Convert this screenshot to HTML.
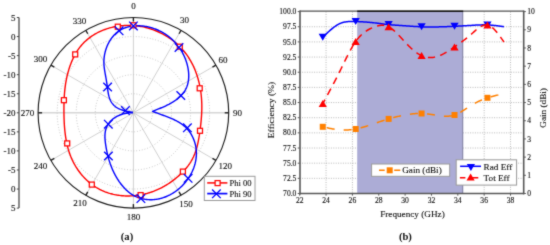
<!DOCTYPE html>
<html><head><meta charset="utf-8"><title>Figure</title>
<style>
html,body{margin:0;padding:0;background:#fff;width:550px;height:245px;overflow:hidden}
svg{display:block}
text{font-family:'Liberation Serif','Times New Roman',serif;fill:#111;stroke:#111;stroke-width:0.12px}
.t9{font-size:9px}
.t85{font-size:8.6px}
.t75{font-size:7.6px}
.t92{font-size:9.2px}
.t96{font-size:9.6px}
.tb{font-size:10.6px;font-weight:bold;stroke-width:0}
</style></head>
<body>
<svg width="550" height="245" viewBox="0 0 550 245">
<defs><filter id="soft" x="0" y="0" width="1" height="1" color-interpolation-filters="sRGB"><feConvolveMatrix order="3" kernelMatrix="0.025 0.085 0.025 0.085 0.56 0.085 0.025 0.085 0.025" edgeMode="duplicate"/></filter></defs>
<g filter="url(#soft)">
<rect width="550" height="245" fill="#fff"/>
<line x1="19.0" y1="17.5" x2="19.0" y2="208.1" stroke="#4a4a4a" stroke-width="1.3"/>
<line x1="16.8" y1="17.50" x2="19.0" y2="17.50" stroke="#4a4a4a" stroke-width="1"/>
<text x="15.6" y="20.50" text-anchor="end" class="t9">5</text>
<line x1="16.8" y1="36.56" x2="19.0" y2="36.56" stroke="#4a4a4a" stroke-width="1"/>
<text x="15.6" y="39.56" text-anchor="end" class="t9">0</text>
<line x1="16.8" y1="55.62" x2="19.0" y2="55.62" stroke="#4a4a4a" stroke-width="1"/>
<text x="15.6" y="58.62" text-anchor="end" class="t9">-5</text>
<line x1="16.8" y1="74.68" x2="19.0" y2="74.68" stroke="#4a4a4a" stroke-width="1"/>
<text x="15.6" y="77.68" text-anchor="end" class="t9">-10</text>
<line x1="16.8" y1="93.74" x2="19.0" y2="93.74" stroke="#4a4a4a" stroke-width="1"/>
<text x="15.6" y="96.74" text-anchor="end" class="t9">-15</text>
<line x1="16.8" y1="112.80" x2="19.0" y2="112.80" stroke="#4a4a4a" stroke-width="1"/>
<text x="15.6" y="115.80" text-anchor="end" class="t9">-20</text>
<line x1="16.8" y1="131.86" x2="19.0" y2="131.86" stroke="#4a4a4a" stroke-width="1"/>
<text x="15.6" y="134.86" text-anchor="end" class="t9">-15</text>
<line x1="16.8" y1="150.92" x2="19.0" y2="150.92" stroke="#4a4a4a" stroke-width="1"/>
<text x="15.6" y="153.92" text-anchor="end" class="t9">-10</text>
<line x1="16.8" y1="169.98" x2="19.0" y2="169.98" stroke="#4a4a4a" stroke-width="1"/>
<text x="15.6" y="172.98" text-anchor="end" class="t9">-5</text>
<line x1="16.8" y1="189.04" x2="19.0" y2="189.04" stroke="#4a4a4a" stroke-width="1"/>
<text x="15.6" y="192.04" text-anchor="end" class="t9">0</text>
<line x1="16.8" y1="208.10" x2="19.0" y2="208.10" stroke="#4a4a4a" stroke-width="1"/>
<text x="15.6" y="211.10" text-anchor="end" class="t9">5</text>
<circle cx="133.4" cy="112.8" r="19.06" fill="none" stroke="#b2b2b2" stroke-width="0.8" stroke-dasharray="0.9 1.9"/>
<circle cx="133.4" cy="112.8" r="38.12" fill="none" stroke="#b2b2b2" stroke-width="0.8" stroke-dasharray="0.9 1.9"/>
<circle cx="133.4" cy="112.8" r="57.18" fill="none" stroke="#b2b2b2" stroke-width="0.8" stroke-dasharray="0.9 1.9"/>
<circle cx="133.4" cy="112.8" r="76.24" fill="none" stroke="#b2b2b2" stroke-width="0.8" stroke-dasharray="0.9 1.9"/>
<line x1="133.4" y1="112.8" x2="133.40" y2="17.50" stroke="#c4c4c4" stroke-width="0.8"/>
<line x1="133.4" y1="112.8" x2="181.05" y2="30.27" stroke="#c4c4c4" stroke-width="0.8"/>
<line x1="133.4" y1="112.8" x2="215.93" y2="65.15" stroke="#c4c4c4" stroke-width="0.8"/>
<line x1="133.4" y1="112.8" x2="228.70" y2="112.80" stroke="#d6d6d6" stroke-width="1.6"/>
<line x1="133.4" y1="112.8" x2="215.93" y2="160.45" stroke="#c4c4c4" stroke-width="0.8"/>
<line x1="133.4" y1="112.8" x2="181.05" y2="195.33" stroke="#c4c4c4" stroke-width="0.8"/>
<line x1="133.4" y1="112.8" x2="133.40" y2="208.10" stroke="#c4c4c4" stroke-width="0.8"/>
<line x1="133.4" y1="112.8" x2="85.75" y2="195.33" stroke="#c4c4c4" stroke-width="0.8"/>
<line x1="133.4" y1="112.8" x2="50.87" y2="160.45" stroke="#c4c4c4" stroke-width="0.8"/>
<line x1="133.4" y1="112.8" x2="38.10" y2="112.80" stroke="#d6d6d6" stroke-width="1.6"/>
<line x1="133.4" y1="112.8" x2="50.87" y2="65.15" stroke="#c4c4c4" stroke-width="0.8"/>
<line x1="133.4" y1="112.8" x2="85.75" y2="30.27" stroke="#c4c4c4" stroke-width="0.8"/>
<circle cx="133.4" cy="112.8" r="95.3" fill="none" stroke="#1e1e1e" stroke-width="1.15"/>
<line x1="133.40" y1="17.50" x2="133.40" y2="21.50" stroke="#1e1e1e" stroke-width="1.4"/>
<line x1="181.05" y1="30.27" x2="179.05" y2="33.73" stroke="#1e1e1e" stroke-width="1.4"/>
<line x1="215.93" y1="65.15" x2="212.47" y2="67.15" stroke="#1e1e1e" stroke-width="1.4"/>
<line x1="228.70" y1="112.80" x2="224.70" y2="112.80" stroke="#1e1e1e" stroke-width="1.4"/>
<line x1="215.93" y1="160.45" x2="212.47" y2="158.45" stroke="#1e1e1e" stroke-width="1.4"/>
<line x1="181.05" y1="195.33" x2="179.05" y2="191.87" stroke="#1e1e1e" stroke-width="1.4"/>
<line x1="133.40" y1="208.10" x2="133.40" y2="204.10" stroke="#1e1e1e" stroke-width="1.4"/>
<line x1="85.75" y1="195.33" x2="87.75" y2="191.87" stroke="#1e1e1e" stroke-width="1.4"/>
<line x1="50.87" y1="160.45" x2="54.33" y2="158.45" stroke="#1e1e1e" stroke-width="1.4"/>
<line x1="38.10" y1="112.80" x2="42.10" y2="112.80" stroke="#1e1e1e" stroke-width="1.4"/>
<line x1="50.87" y1="65.15" x2="54.33" y2="67.15" stroke="#1e1e1e" stroke-width="1.4"/>
<line x1="85.75" y1="30.27" x2="87.75" y2="33.73" stroke="#1e1e1e" stroke-width="1.4"/>
<text x="133.40" y="8.80" text-anchor="middle" class="t9">0</text>
<text x="184.50" y="23.10" text-anchor="middle" class="t9">30</text>
<text x="222.90" y="62.60" text-anchor="middle" class="t9">60</text>
<text x="237.50" y="115.60" text-anchor="middle" class="t9">90</text>
<text x="225.30" y="168.80" text-anchor="middle" class="t9">120</text>
<text x="186.10" y="207.10" text-anchor="middle" class="t9">150</text>
<text x="133.40" y="220.40" text-anchor="middle" class="t9">180</text>
<text x="79.90" y="206.30" text-anchor="middle" class="t9">210</text>
<text x="40.50" y="168.80" text-anchor="middle" class="t9">240</text>
<text x="27.40" y="115.50" text-anchor="middle" class="t9">270</text>
<text x="40.50" y="62.40" text-anchor="middle" class="t9">300</text>
<text x="79.60" y="23.90" text-anchor="middle" class="t9">330</text>
<path d="M133.27,25.54 L134.53,25.64 L135.78,25.76 L137.03,25.90 L138.27,26.06 L139.52,26.24 L140.76,26.45 L141.99,26.68 L143.22,26.92 L144.44,27.19 L145.66,27.48 L146.88,27.80 L148.08,28.13 L149.29,28.48 L150.48,28.85 L151.67,29.24 L152.85,29.65 L154.02,30.09 L155.19,30.54 L156.34,31.01 L157.49,31.50 L158.63,32.00 L159.76,32.53 L160.88,33.08 L161.99,33.64 L163.09,34.22 L164.18,34.82 L165.26,35.44 L166.33,36.08 L167.39,36.73 L168.43,37.40 L169.46,38.09 L170.48,38.79 L171.49,39.52 L172.48,40.25 L173.46,41.01 L174.43,41.78 L175.38,42.57 L176.31,43.37 L177.24,44.19 L178.14,45.03 L179.03,45.88 L179.91,46.74 L180.77,47.62 L181.61,48.52 L182.43,49.43 L183.24,50.35 L184.03,51.29 L184.80,52.24 L185.56,53.21 L186.29,54.19 L187.01,55.19 L187.71,56.19 L188.39,57.22 L189.05,58.25 L189.69,59.29 L190.32,60.35 L190.93,61.42 L191.52,62.49 L192.10,63.58 L192.65,64.68 L193.19,65.79 L193.71,66.91 L194.22,68.04 L194.70,69.18 L195.17,70.32 L195.63,71.48 L196.06,72.64 L196.48,73.81 L196.89,74.98 L197.27,76.17 L197.64,77.35 L197.99,78.55 L198.33,79.75 L198.65,80.96 L198.96,82.17 L199.25,83.38 L199.52,84.60 L199.78,85.83 L200.02,87.06 L200.24,88.29 L200.45,89.52 L200.65,90.76 L200.83,92.00 L200.99,93.24 L201.14,94.48 L201.27,95.72 L201.39,96.97 L201.49,98.21 L201.58,99.45 L201.65,100.70 L201.71,101.94 L201.76,103.19 L201.79,104.43 L201.81,105.67 L201.81,106.91 L201.81,108.16 L201.79,109.40 L201.76,110.64 L201.71,111.88 L201.66,113.13 L201.60,114.37 L201.52,115.61 L201.44,116.85 L201.35,118.09 L201.25,119.34 L201.14,120.58 L201.02,121.82 L200.89,123.06 L200.76,124.31 L200.62,125.55 L200.47,126.80 L200.32,128.04 L200.16,129.29 L200.00,130.53 L199.83,131.78 L199.66,133.02 L199.48,134.27 L199.29,135.51 L199.09,136.76 L198.89,138.00 L198.67,139.23 L198.44,140.47 L198.20,141.69 L197.94,142.92 L197.67,144.13 L197.38,145.34 L197.08,146.55 L196.76,147.74 L196.41,148.93 L196.05,150.11 L195.67,151.28 L195.26,152.43 L194.84,153.58 L194.38,154.72 L193.90,155.84 L193.40,156.95 L192.86,158.04 L192.30,159.13 L191.72,160.19 L191.10,161.25 L190.46,162.29 L189.80,163.31 L189.11,164.32 L188.40,165.32 L187.66,166.30 L186.91,167.27 L186.13,168.23 L185.33,169.17 L184.52,170.10 L183.68,171.01 L182.83,171.91 L181.96,172.80 L181.07,173.67 L180.16,174.53 L179.25,175.37 L178.31,176.21 L177.37,177.02 L176.41,177.83 L175.44,178.62 L174.46,179.39 L173.46,180.15 L172.46,180.90 L171.45,181.63 L170.42,182.35 L169.39,183.06 L168.35,183.75 L167.29,184.42 L166.23,185.08 L165.16,185.72 L164.08,186.34 L162.99,186.95 L161.89,187.54 L160.78,188.11 L159.66,188.66 L158.54,189.20 L157.40,189.72 L156.26,190.22 L155.10,190.70 L153.94,191.16 L152.77,191.59 L151.59,192.01 L150.41,192.41 L149.21,192.79 L148.01,193.15 L146.80,193.49 L145.59,193.80 L144.37,194.10 L143.14,194.37 L141.91,194.62 L140.68,194.85 L139.44,195.06 L138.20,195.25 L136.96,195.42 L135.71,195.56 L134.46,195.69 L133.21,195.79 L131.96,195.87 L130.70,195.92 L129.45,195.96 L128.20,195.97 L126.95,195.96 L125.70,195.93 L124.45,195.87 L123.21,195.79 L121.97,195.69 L120.73,195.57 L119.49,195.42 L118.26,195.25 L117.03,195.06 L115.81,194.84 L114.60,194.60 L113.39,194.34 L112.19,194.05 L110.99,193.74 L109.80,193.41 L108.62,193.05 L107.45,192.66 L106.29,192.26 L105.14,191.83 L104.00,191.37 L102.86,190.89 L101.74,190.39 L100.63,189.86 L99.54,189.31 L98.45,188.73 L97.38,188.12 L96.32,187.50 L95.27,186.84 L94.24,186.17 L93.23,185.47 L92.22,184.74 L91.24,184.00 L90.26,183.23 L89.31,182.44 L88.36,181.63 L87.44,180.81 L86.53,179.96 L85.63,179.09 L84.76,178.20 L83.90,177.30 L83.06,176.38 L82.23,175.44 L81.42,174.49 L80.63,173.52 L79.86,172.53 L79.11,171.53 L78.38,170.52 L77.66,169.49 L76.97,168.45 L76.30,167.40 L75.64,166.34 L75.01,165.26 L74.39,164.18 L73.80,163.08 L73.23,161.98 L72.68,160.86 L72.15,159.74 L71.64,158.61 L71.15,157.47 L70.68,156.33 L70.24,155.17 L69.81,154.02 L69.40,152.85 L69.02,151.68 L68.65,150.50 L68.29,149.31 L67.96,148.12 L67.64,146.92 L67.34,145.72 L67.05,144.51 L66.79,143.30 L66.53,142.09 L66.29,140.86 L66.07,139.64 L65.86,138.41 L65.66,137.18 L65.48,135.94 L65.31,134.70 L65.15,133.46 L65.01,132.22 L64.87,130.97 L64.75,129.72 L64.64,128.47 L64.53,127.22 L64.44,125.96 L64.36,124.71 L64.28,123.45 L64.22,122.19 L64.16,120.93 L64.11,119.68 L64.06,118.42 L64.03,117.16 L64.00,115.90 L63.97,114.65 L63.96,113.39 L63.94,112.14 L63.93,110.89 L63.93,109.64 L63.93,108.39 L63.94,107.14 L63.95,105.89 L63.97,104.65 L64.00,103.40 L64.03,102.16 L64.07,100.92 L64.12,99.68 L64.17,98.44 L64.24,97.21 L64.31,95.97 L64.40,94.74 L64.49,93.51 L64.59,92.28 L64.70,91.05 L64.83,89.82 L64.96,88.59 L65.11,87.37 L65.27,86.14 L65.44,84.92 L65.62,83.70 L65.82,82.48 L66.03,81.27 L66.26,80.05 L66.49,78.83 L66.75,77.62 L67.01,76.41 L67.30,75.20 L67.59,73.99 L67.91,72.78 L68.24,71.57 L68.59,70.37 L68.95,69.17 L69.33,67.97 L69.73,66.77 L70.15,65.58 L70.58,64.40 L71.03,63.22 L71.50,62.05 L71.99,60.89 L72.50,59.74 L73.02,58.60 L73.57,57.47 L74.13,56.35 L74.72,55.24 L75.32,54.15 L75.95,53.07 L76.59,52.00 L77.25,50.95 L77.94,49.92 L78.64,48.91 L79.37,47.91 L80.12,46.93 L80.89,45.98 L81.68,45.04 L82.49,44.13 L83.33,43.23 L84.18,42.36 L85.06,41.51 L85.95,40.68 L86.87,39.87 L87.80,39.09 L88.76,38.32 L89.73,37.58 L90.71,36.86 L91.72,36.16 L92.74,35.48 L93.77,34.83 L94.82,34.19 L95.89,33.58 L96.97,32.99 L98.06,32.42 L99.17,31.88 L100.28,31.35 L101.41,30.85 L102.56,30.37 L103.71,29.91 L104.87,29.48 L106.04,29.06 L107.23,28.67 L108.42,28.30 L109.62,27.95 L110.82,27.62 L112.04,27.32 L113.26,27.04 L114.48,26.78 L115.72,26.54 L116.96,26.32 L118.20,26.13 L119.44,25.96 L120.69,25.81 L121.95,25.68 L123.20,25.58 L124.46,25.49 L125.72,25.43 L126.98,25.39 L128.24,25.38 L129.50,25.39 L130.76,25.42 L132.02,25.47 L133.27,25.54 Z" fill="none" stroke="#ff0000" stroke-width="1.4"/>
<path d="M133.03,112.40 L132.43,112.29 L131.82,112.18 L131.21,112.07 L130.58,111.95 L129.95,111.84 L129.32,111.72 L128.68,111.60 L128.03,111.47 L127.38,111.34 L126.73,111.20 L126.09,111.06 L125.44,110.91 L124.79,110.75 L124.14,110.59 L123.50,110.41 L122.86,110.23 L122.23,110.03 L121.60,109.83 L120.99,109.61 L120.38,109.38 L119.78,109.13 L119.19,108.87 L118.61,108.60 L118.05,108.30 L117.50,108.00 L116.96,107.67 L116.44,107.33 L115.93,106.98 L115.44,106.61 L114.97,106.22 L114.50,105.82 L114.06,105.41 L113.63,104.98 L113.21,104.53 L112.81,104.07 L112.43,103.60 L112.07,103.12 L111.72,102.62 L111.38,102.11 L111.07,101.59 L110.77,101.06 L110.48,100.52 L110.22,99.96 L109.97,99.39 L109.74,98.82 L109.53,98.23 L109.33,97.64 L109.14,97.04 L108.97,96.43 L108.81,95.81 L108.66,95.18 L108.52,94.55 L108.39,93.92 L108.27,93.28 L108.16,92.64 L108.05,91.99 L107.95,91.34 L107.85,90.69 L107.76,90.04 L107.67,89.39 L107.58,88.73 L107.50,88.08 L107.41,87.43 L107.33,86.78 L107.24,86.13 L107.15,85.49 L107.06,84.85 L106.96,84.20 L106.87,83.56 L106.77,82.93 L106.67,82.29 L106.57,81.66 L106.47,81.02 L106.37,80.39 L106.27,79.76 L106.16,79.13 L106.05,78.50 L105.94,77.87 L105.83,77.25 L105.72,76.62 L105.60,76.00 L105.49,75.37 L105.38,74.74 L105.26,74.12 L105.15,73.50 L105.04,72.87 L104.93,72.25 L104.83,71.62 L104.72,71.00 L104.62,70.37 L104.53,69.75 L104.44,69.12 L104.35,68.49 L104.27,67.87 L104.20,67.24 L104.13,66.61 L104.07,65.98 L104.02,65.35 L103.98,64.72 L103.94,64.08 L103.92,63.45 L103.90,62.81 L103.89,62.18 L103.89,61.54 L103.91,60.90 L103.93,60.26 L103.97,59.61 L104.01,58.97 L104.07,58.33 L104.14,57.69 L104.21,57.04 L104.30,56.40 L104.40,55.76 L104.50,55.11 L104.62,54.47 L104.75,53.83 L104.89,53.20 L105.03,52.56 L105.19,51.93 L105.36,51.29 L105.53,50.66 L105.72,50.04 L105.91,49.41 L106.12,48.79 L106.33,48.18 L106.56,47.56 L106.79,46.96 L107.03,46.35 L107.28,45.75 L107.54,45.15 L107.81,44.56 L108.09,43.98 L108.38,43.40 L108.68,42.82 L108.99,42.25 L109.30,41.69 L109.63,41.14 L109.96,40.59 L110.30,40.04 L110.65,39.51 L111.01,38.98 L111.37,38.46 L111.75,37.95 L112.13,37.44 L112.53,36.95 L112.93,36.46 L113.34,35.98 L113.75,35.51 L114.18,35.05 L114.61,34.60 L115.05,34.16 L115.50,33.73 L115.96,33.31 L116.43,32.90 L116.90,32.50 L117.38,32.12 L117.87,31.74 L118.37,31.37 L118.87,31.02 L119.38,30.68 L119.90,30.35 L120.43,30.04 L120.96,29.73 L121.50,29.44 L122.05,29.16 L122.60,28.89 L123.16,28.63 L123.72,28.39 L124.30,28.15 L124.87,27.93 L125.46,27.72 L126.04,27.52 L126.64,27.33 L127.23,27.15 L127.84,26.98 L128.44,26.83 L129.05,26.68 L129.67,26.55 L130.29,26.43 L130.91,26.31 L131.54,26.21 L132.16,26.12 L132.80,26.04 L133.43,25.96 L134.07,25.90 L134.71,25.85 L135.35,25.81 L136.00,25.78 L136.64,25.76 L137.29,25.75 L137.94,25.74 L138.59,25.75 L139.24,25.77 L139.89,25.80 L140.55,25.83 L141.20,25.88 L141.86,25.93 L142.51,25.99 L143.16,26.06 L143.82,26.15 L144.47,26.24 L145.12,26.33 L145.77,26.44 L146.42,26.56 L147.07,26.68 L147.72,26.81 L148.36,26.95 L149.00,27.10 L149.65,27.26 L150.28,27.42 L150.92,27.60 L151.55,27.78 L152.18,27.97 L152.81,28.16 L153.43,28.36 L154.05,28.58 L154.67,28.79 L155.28,29.02 L155.89,29.25 L156.50,29.49 L157.10,29.74 L157.69,30.00 L158.28,30.26 L158.87,30.53 L159.46,30.80 L160.03,31.09 L160.61,31.38 L161.18,31.67 L161.75,31.97 L162.31,32.28 L162.86,32.60 L163.42,32.92 L163.96,33.25 L164.51,33.59 L165.05,33.93 L165.58,34.28 L166.11,34.63 L166.63,35.00 L167.15,35.36 L167.67,35.74 L168.17,36.12 L168.68,36.50 L169.18,36.89 L169.67,37.29 L170.16,37.70 L170.65,38.10 L171.12,38.52 L171.60,38.94 L172.06,39.37 L172.53,39.80 L172.98,40.24 L173.44,40.68 L173.88,41.13 L174.32,41.58 L174.76,42.04 L175.19,42.51 L175.61,42.98 L176.03,43.45 L176.44,43.93 L176.85,44.42 L177.25,44.91 L177.64,45.40 L178.03,45.90 L178.42,46.41 L178.79,46.92 L179.16,47.43 L179.53,47.95 L179.89,48.47 L180.24,49.00 L180.59,49.53 L180.93,50.07 L181.26,50.61 L181.59,51.16 L181.91,51.71 L182.22,52.26 L182.53,52.82 L182.83,53.39 L183.13,53.95 L183.41,54.52 L183.70,55.10 L183.97,55.68 L184.24,56.26 L184.50,56.85 L184.75,57.44 L185.00,58.03 L185.24,58.63 L185.48,59.23 L185.70,59.84 L185.92,60.44 L186.13,61.06 L186.34,61.67 L186.54,62.29 L186.73,62.91 L186.91,63.54 L187.08,64.16 L187.25,64.79 L187.41,65.43 L187.56,66.06 L187.71,66.70 L187.84,67.34 L187.97,67.98 L188.08,68.62 L188.19,69.26 L188.29,69.90 L188.38,70.54 L188.46,71.19 L188.53,71.83 L188.59,72.47 L188.64,73.12 L188.68,73.76 L188.71,74.40 L188.73,75.04 L188.74,75.68 L188.73,76.32 L188.72,76.95 L188.70,77.59 L188.66,78.22 L188.61,78.85 L188.55,79.48 L188.48,80.10 L188.39,80.72 L188.30,81.34 L188.19,81.95 L188.07,82.56 L187.93,83.17 L187.78,83.77 L187.62,84.37 L187.45,84.97 L187.26,85.56 L187.06,86.14 L186.85,86.72 L186.62,87.29 L186.37,87.86 L186.12,88.42 L185.84,88.98 L185.56,89.53 L185.25,90.07 L184.94,90.60 L184.60,91.13 L184.26,91.65 L183.90,92.17 L183.52,92.68 L183.13,93.18 L182.73,93.67 L182.32,94.16 L181.89,94.64 L181.46,95.11 L181.01,95.58 L180.55,96.04 L180.09,96.49 L179.61,96.93 L179.12,97.37 L178.63,97.80 L178.13,98.22 L177.61,98.64 L177.10,99.05 L176.57,99.45 L176.04,99.85 L175.51,100.24 L174.96,100.62 L174.42,100.99 L173.87,101.36 L173.31,101.72 L172.75,102.07 L172.19,102.42 L171.63,102.76 L171.06,103.09 L170.50,103.41 L169.93,103.73 L169.36,104.04 L168.79,104.35 L168.22,104.64 L167.65,104.93 L167.09,105.21 L166.52,105.49 L165.95,105.76 L165.38,106.03 L164.82,106.29 L164.25,106.55 L163.68,106.80 L163.11,107.05 L162.54,107.29 L161.96,107.53 L161.39,107.77 L160.82,108.01 L160.24,108.24 L159.66,108.48 L159.08,108.71 L158.50,108.94 L157.91,109.18 L157.32,109.41 L156.73,109.64 L156.14,109.87 L155.54,110.11 L154.94,110.35 L154.34,110.59 L153.73,110.83 L153.12,111.07 L152.51,111.32 L153.14,111.54 L153.74,111.79 L154.35,112.03 L154.95,112.26 L155.56,112.50 L156.17,112.73 L156.79,112.96 L157.40,113.19 L158.02,113.42 L158.64,113.65 L159.27,113.88 L159.89,114.11 L160.52,114.33 L161.14,114.56 L161.77,114.79 L162.40,115.01 L163.03,115.24 L163.66,115.47 L164.29,115.70 L164.92,115.93 L165.54,116.17 L166.17,116.40 L166.80,116.64 L167.43,116.88 L168.05,117.12 L168.68,117.37 L169.30,117.62 L169.92,117.87 L170.54,118.13 L171.15,118.39 L171.77,118.65 L172.38,118.92 L172.99,119.19 L173.59,119.47 L174.19,119.75 L174.79,120.04 L175.39,120.34 L175.98,120.64 L176.56,120.94 L177.14,121.25 L177.72,121.57 L178.29,121.90 L178.86,122.23 L179.42,122.57 L179.98,122.92 L180.53,123.27 L181.08,123.63 L181.62,124.01 L182.15,124.38 L182.67,124.77 L183.19,125.17 L183.70,125.58 L184.20,125.99 L184.70,126.42 L185.18,126.85 L185.66,127.30 L186.13,127.75 L186.59,128.22 L187.04,128.69 L187.48,129.18 L187.91,129.68 L188.34,130.18 L188.75,130.70 L189.15,131.23 L189.54,131.76 L189.92,132.31 L190.30,132.86 L190.66,133.42 L191.01,133.99 L191.35,134.57 L191.68,135.15 L192.00,135.74 L192.31,136.34 L192.61,136.94 L192.90,137.55 L193.18,138.17 L193.44,138.79 L193.70,139.41 L193.94,140.04 L194.18,140.67 L194.40,141.31 L194.61,141.95 L194.81,142.60 L195.00,143.24 L195.17,143.89 L195.34,144.54 L195.49,145.20 L195.63,145.85 L195.76,146.51 L195.88,147.17 L195.98,147.82 L196.07,148.48 L196.16,149.14 L196.22,149.80 L196.28,150.46 L196.33,151.12 L196.36,151.77 L196.38,152.43 L196.40,153.09 L196.40,153.75 L196.39,154.40 L196.36,155.06 L196.33,155.72 L196.29,156.37 L196.23,157.02 L196.16,157.68 L196.09,158.33 L196.00,158.98 L195.90,159.63 L195.80,160.28 L195.68,160.92 L195.55,161.56 L195.41,162.21 L195.26,162.85 L195.11,163.49 L194.94,164.12 L194.76,164.76 L194.57,165.39 L194.38,166.02 L194.17,166.64 L193.96,167.27 L193.73,167.89 L193.50,168.51 L193.26,169.12 L193.00,169.73 L192.74,170.34 L192.47,170.95 L192.20,171.55 L191.91,172.15 L191.62,172.75 L191.31,173.34 L191.00,173.93 L190.68,174.51 L190.35,175.09 L190.02,175.67 L189.67,176.24 L189.32,176.81 L188.96,177.37 L188.60,177.93 L188.22,178.49 L187.84,179.04 L187.45,179.58 L187.05,180.12 L186.65,180.66 L186.24,181.19 L185.82,181.71 L185.40,182.23 L184.97,182.74 L184.53,183.25 L184.09,183.75 L183.63,184.25 L183.18,184.74 L182.71,185.23 L182.24,185.71 L181.77,186.18 L181.29,186.65 L180.80,187.11 L180.30,187.56 L179.81,188.01 L179.30,188.45 L178.79,188.88 L178.27,189.31 L177.75,189.73 L177.23,190.14 L176.69,190.55 L176.16,190.95 L175.62,191.34 L175.07,191.72 L174.52,192.10 L173.96,192.46 L173.40,192.82 L172.84,193.18 L172.27,193.52 L171.69,193.86 L171.11,194.18 L170.53,194.50 L169.94,194.82 L169.35,195.12 L168.76,195.41 L168.16,195.70 L167.56,195.97 L166.95,196.24 L166.35,196.50 L165.73,196.75 L165.12,196.99 L164.50,197.22 L163.88,197.44 L163.25,197.65 L162.63,197.85 L162.00,198.05 L161.36,198.23 L160.73,198.40 L160.09,198.56 L159.45,198.71 L158.81,198.85 L158.16,198.99 L157.51,199.11 L156.86,199.22 L156.21,199.32 L155.56,199.40 L154.90,199.48 L154.25,199.55 L153.59,199.60 L152.93,199.65 L152.27,199.68 L151.60,199.70 L150.94,199.71 L150.28,199.71 L149.61,199.70 L148.94,199.67 L148.28,199.63 L147.61,199.58 L146.94,199.52 L146.28,199.45 L145.61,199.36 L144.95,199.27 L144.28,199.16 L143.62,199.04 L142.96,198.90 L142.31,198.76 L141.66,198.60 L141.01,198.43 L140.36,198.25 L139.72,198.06 L139.08,197.85 L138.45,197.64 L137.82,197.41 L137.20,197.17 L136.59,196.91 L135.98,196.65 L135.38,196.37 L134.78,196.08 L134.19,195.77 L133.61,195.46 L133.04,195.13 L132.47,194.79 L131.91,194.44 L131.36,194.08 L130.82,193.71 L130.28,193.33 L129.75,192.94 L129.23,192.54 L128.71,192.13 L128.20,191.71 L127.70,191.28 L127.20,190.84 L126.71,190.39 L126.23,189.94 L125.75,189.48 L125.29,189.01 L124.82,188.54 L124.37,188.05 L123.92,187.56 L123.47,187.07 L123.04,186.57 L122.61,186.06 L122.18,185.55 L121.76,185.04 L121.35,184.52 L120.94,183.99 L120.54,183.46 L120.15,182.93 L119.76,182.40 L119.37,181.86 L119.00,181.31 L118.62,180.77 L118.26,180.21 L117.90,179.66 L117.54,179.10 L117.19,178.54 L116.85,177.98 L116.51,177.41 L116.18,176.84 L115.85,176.27 L115.53,175.69 L115.21,175.11 L114.90,174.53 L114.60,173.94 L114.30,173.35 L114.00,172.76 L113.71,172.17 L113.42,171.57 L113.14,170.97 L112.87,170.37 L112.60,169.76 L112.34,169.16 L112.08,168.55 L111.82,167.93 L111.57,167.32 L111.33,166.70 L111.09,166.08 L110.85,165.46 L110.62,164.83 L110.40,164.21 L110.17,163.58 L109.96,162.95 L109.75,162.32 L109.54,161.68 L109.34,161.04 L109.14,160.41 L108.94,159.77 L108.76,159.12 L108.57,158.48 L108.39,157.83 L108.22,157.19 L108.04,156.54 L107.88,155.89 L107.71,155.24 L107.55,154.58 L107.40,153.93 L107.25,153.27 L107.10,152.61 L106.96,151.96 L106.82,151.30 L106.69,150.63 L106.56,149.97 L106.43,149.31 L106.31,148.65 L106.19,147.98 L106.08,147.31 L105.97,146.65 L105.86,145.98 L105.76,145.31 L105.66,144.64 L105.56,143.97 L105.47,143.30 L105.38,142.63 L105.30,141.96 L105.23,141.29 L105.16,140.62 L105.10,139.95 L105.05,139.29 L105.00,138.62 L104.97,137.96 L104.95,137.30 L104.94,136.64 L104.94,135.98 L104.95,135.33 L104.98,134.68 L105.02,134.03 L105.08,133.39 L105.15,132.75 L105.24,132.12 L105.34,131.49 L105.46,130.86 L105.60,130.24 L105.76,129.63 L105.94,129.02 L106.14,128.41 L106.35,127.82 L106.59,127.23 L106.85,126.65 L107.12,126.07 L107.42,125.51 L107.73,124.95 L108.06,124.40 L108.41,123.86 L108.78,123.33 L109.16,122.81 L109.56,122.30 L109.98,121.80 L110.41,121.32 L110.86,120.84 L111.33,120.38 L111.81,119.93 L112.31,119.49 L112.82,119.06 L113.35,118.65 L113.89,118.25 L114.44,117.87 L115.01,117.50 L115.59,117.14 L116.18,116.80 L116.78,116.47 L117.38,116.15 L118.00,115.84 L118.63,115.56 L119.26,115.28 L119.90,115.02 L120.54,114.77 L121.20,114.54 L121.85,114.32 L122.51,114.11 L123.17,113.92 L123.84,113.75 L124.50,113.58 L125.17,113.44 L125.84,113.30 L126.51,113.19 L127.17,113.08 L127.84,112.99 L128.50,112.92 L129.16,112.86 L129.82,112.81 L130.47,112.78 L131.11,112.76 L131.75,112.76 L132.38,112.77 L133.01,112.80" fill="none" stroke="#0000ff" stroke-width="1.4" stroke-linejoin="round"/>
<rect x="130.90" y="22.80" width="5.0" height="5.0" fill="#fff" stroke="#ff0000" stroke-width="1.25"/>
<rect x="177.30" y="44.20" width="5.0" height="5.0" fill="#fff" stroke="#ff0000" stroke-width="1.25"/>
<rect x="197.20" y="85.80" width="5.0" height="5.0" fill="#fff" stroke="#ff0000" stroke-width="1.25"/>
<rect x="197.50" y="128.30" width="5.0" height="5.0" fill="#fff" stroke="#ff0000" stroke-width="1.25"/>
<rect x="180.40" y="169.10" width="5.0" height="5.0" fill="#fff" stroke="#ff0000" stroke-width="1.25"/>
<rect x="138.10" y="192.60" width="5.0" height="5.0" fill="#fff" stroke="#ff0000" stroke-width="1.25"/>
<rect x="89.30" y="182.10" width="5.0" height="5.0" fill="#fff" stroke="#ff0000" stroke-width="1.25"/>
<rect x="64.70" y="140.90" width="5.0" height="5.0" fill="#fff" stroke="#ff0000" stroke-width="1.25"/>
<rect x="61.40" y="97.70" width="5.0" height="5.0" fill="#fff" stroke="#ff0000" stroke-width="1.25"/>
<rect x="72.70" y="51.90" width="5.0" height="5.0" fill="#fff" stroke="#ff0000" stroke-width="1.25"/>
<rect x="115.30" y="24.20" width="5.0" height="5.0" fill="#fff" stroke="#ff0000" stroke-width="1.25"/>
<path d="M129.10,21.60 L137.70,30.20 M129.10,30.20 L137.70,21.60" stroke="#0000ff" stroke-width="1.3" fill="none"/>
<path d="M174.70,43.20 L183.30,51.80 M174.70,51.80 L183.30,43.20" stroke="#0000ff" stroke-width="1.3" fill="none"/>
<path d="M176.50,91.20 L185.10,99.80 M176.50,99.80 L185.10,91.20" stroke="#0000ff" stroke-width="1.3" fill="none"/>
<path d="M183.10,123.50 L191.70,132.10 M183.10,132.10 L191.70,123.50" stroke="#0000ff" stroke-width="1.3" fill="none"/>
<path d="M183.80,174.00 L192.40,182.60 M183.80,182.60 L192.40,174.00" stroke="#0000ff" stroke-width="1.3" fill="none"/>
<path d="M136.60,194.30 L145.20,202.90 M136.60,202.90 L145.20,194.30" stroke="#0000ff" stroke-width="1.3" fill="none"/>
<path d="M104.10,151.70 L112.70,160.30 M104.10,160.30 L112.70,151.70" stroke="#0000ff" stroke-width="1.3" fill="none"/>
<path d="M104.00,119.90 L112.60,128.50 M104.00,128.50 L112.60,119.90" stroke="#0000ff" stroke-width="1.3" fill="none"/>
<path d="M121.10,106.30 L129.70,114.90 M121.10,114.90 L129.70,106.30" stroke="#0000ff" stroke-width="1.3" fill="none"/>
<path d="M103.30,82.70 L111.90,91.30 M103.30,91.30 L111.90,82.70" stroke="#0000ff" stroke-width="1.3" fill="none"/>
<path d="M114.80,26.50 L123.40,35.10 M114.80,35.10 L123.40,26.50" stroke="#0000ff" stroke-width="1.3" fill="none"/>
<rect x="204.3" y="176.3" width="50.7" height="24.2" fill="#fff" stroke="#9a9a9a" stroke-width="1"/>
<line x1="207.2" y1="182.9" x2="227.4" y2="182.9" stroke="#ff0000" stroke-width="1.5"/>
<rect x="215.10" y="180.60" width="5.0" height="5.0" fill="#fff" stroke="#ff0000" stroke-width="1.25"/>
<line x1="207.2" y1="193.6" x2="227.4" y2="193.6" stroke="#0000ff" stroke-width="1.7"/>
<path d="M212.10,189.50 L220.70,198.10 M212.10,198.10 L220.70,189.50" stroke="#0000ff" stroke-width="1.3" fill="none"/>
<text x="229.4" y="186.2" class="t85">Phi 00</text>
<text x="229.4" y="196.6" class="t85">Phi 90</text>
<text x="127" y="239.7" text-anchor="middle" class="tb">(a)</text>
<line x1="326.05" y1="11.6" x2="326.05" y2="193.5" stroke="#adadad" stroke-width="0.85" stroke-dasharray="1 1.4"/>
<line x1="352.41" y1="11.6" x2="352.41" y2="193.5" stroke="#adadad" stroke-width="0.85" stroke-dasharray="1 1.4"/>
<line x1="378.76" y1="11.6" x2="378.76" y2="193.5" stroke="#adadad" stroke-width="0.85" stroke-dasharray="1 1.4"/>
<line x1="405.11" y1="11.6" x2="405.11" y2="193.5" stroke="#adadad" stroke-width="0.85" stroke-dasharray="1 1.4"/>
<line x1="431.46" y1="11.6" x2="431.46" y2="193.5" stroke="#adadad" stroke-width="0.85" stroke-dasharray="1 1.4"/>
<line x1="457.82" y1="11.6" x2="457.82" y2="193.5" stroke="#adadad" stroke-width="0.85" stroke-dasharray="1 1.4"/>
<line x1="484.17" y1="11.6" x2="484.17" y2="193.5" stroke="#adadad" stroke-width="0.85" stroke-dasharray="1 1.4"/>
<line x1="510.52" y1="11.6" x2="510.52" y2="193.5" stroke="#adadad" stroke-width="0.85" stroke-dasharray="1 1.4"/>
<line x1="299.7" y1="178.34" x2="523.7" y2="178.34" stroke="#adadad" stroke-width="0.85" stroke-dasharray="1 1.4"/>
<line x1="299.7" y1="163.18" x2="523.7" y2="163.18" stroke="#adadad" stroke-width="0.85" stroke-dasharray="1 1.4"/>
<line x1="299.7" y1="148.03" x2="523.7" y2="148.03" stroke="#adadad" stroke-width="0.85" stroke-dasharray="1 1.4"/>
<line x1="299.7" y1="132.87" x2="523.7" y2="132.87" stroke="#adadad" stroke-width="0.85" stroke-dasharray="1 1.4"/>
<line x1="299.7" y1="117.71" x2="523.7" y2="117.71" stroke="#adadad" stroke-width="0.85" stroke-dasharray="1 1.4"/>
<line x1="299.7" y1="102.55" x2="523.7" y2="102.55" stroke="#adadad" stroke-width="0.85" stroke-dasharray="1 1.4"/>
<line x1="299.7" y1="87.39" x2="523.7" y2="87.39" stroke="#adadad" stroke-width="0.85" stroke-dasharray="1 1.4"/>
<line x1="299.7" y1="72.23" x2="523.7" y2="72.23" stroke="#adadad" stroke-width="0.85" stroke-dasharray="1 1.4"/>
<line x1="299.7" y1="57.07" x2="523.7" y2="57.07" stroke="#adadad" stroke-width="0.85" stroke-dasharray="1 1.4"/>
<line x1="299.7" y1="41.92" x2="523.7" y2="41.92" stroke="#adadad" stroke-width="0.85" stroke-dasharray="1 1.4"/>
<line x1="299.7" y1="26.76" x2="523.7" y2="26.76" stroke="#adadad" stroke-width="0.85" stroke-dasharray="1 1.4"/>
<rect x="357.2" y="11.6" width="106.00" height="181.90" fill="#acacd6"/>
<line x1="462.60" y1="11.6" x2="462.60" y2="193.5" stroke="#8a8aaa" stroke-width="1.1"/>
<path d="M322.76,126.80 L323.67,127.01 L324.58,127.21 L325.49,127.42 L326.40,127.62 L327.31,127.82 L328.22,128.02 L329.13,128.21 L330.04,128.40 L330.95,128.58 L331.86,128.75 L332.77,128.91 L333.68,129.07 L334.59,129.22 L335.50,129.36 L336.42,129.48 L337.33,129.60 L338.24,129.70 L339.15,129.79 L340.06,129.87 L340.97,129.93 L341.88,129.98 L342.79,130.01 L343.70,130.04 L344.61,130.04 L345.52,130.04 L346.43,130.01 L347.34,129.98 L348.25,129.93 L349.16,129.87 L350.07,129.79 L350.98,129.70 L351.89,129.59 L352.80,129.47 L353.71,129.34 L354.62,129.19 L355.53,129.03 L356.44,128.86 L357.36,128.67 L358.27,128.46 L359.18,128.25 L360.09,128.02 L361.00,127.79 L361.91,127.54 L362.82,127.29 L363.73,127.02 L364.64,126.75 L365.55,126.47 L366.46,126.19 L367.37,125.90 L368.28,125.60 L369.19,125.30 L370.10,125.00 L371.01,124.69 L371.92,124.38 L372.83,124.07 L373.74,123.76 L374.65,123.45 L375.56,123.14 L376.47,122.83 L377.38,122.52 L378.30,122.21 L379.21,121.91 L380.12,121.60 L381.03,121.30 L381.94,121.00 L382.85,120.70 L383.76,120.41 L384.67,120.12 L385.58,119.83 L386.49,119.55 L387.40,119.27 L388.31,119.00 L389.22,118.73 L390.13,118.47 L391.04,118.22 L391.95,117.97 L392.86,117.72 L393.77,117.48 L394.68,117.25 L395.59,117.03 L396.50,116.81 L397.41,116.59 L398.32,116.38 L399.24,116.18 L400.15,115.98 L401.06,115.79 L401.97,115.60 L402.88,115.42 L403.79,115.24 L404.70,115.08 L405.61,114.91 L406.52,114.75 L407.43,114.60 L408.34,114.46 L409.25,114.32 L410.16,114.19 L411.07,114.07 L411.98,113.96 L412.89,113.86 L413.80,113.77 L414.71,113.69 L415.62,113.62 L416.53,113.57 L417.44,113.52 L418.35,113.49 L419.26,113.48 L420.18,113.47 L421.09,113.49 L422.00,113.51 L422.91,113.56 L423.82,113.62 L424.73,113.69 L425.64,113.77 L426.55,113.86 L427.46,113.96 L428.37,114.08 L429.28,114.19 L430.19,114.32 L431.10,114.45 L432.01,114.58 L432.92,114.72 L433.83,114.86 L434.74,115.00 L435.65,115.14 L436.56,115.28 L437.47,115.42 L438.38,115.55 L439.29,115.67 L440.20,115.79 L441.12,115.90 L442.03,116.00 L442.94,116.09 L443.85,116.16 L444.76,116.21 L445.67,116.24 L446.58,116.24 L447.49,116.22 L448.40,116.18 L449.31,116.10 L450.22,116.00 L451.13,115.86 L452.04,115.68 L452.95,115.47 L453.86,115.21 L454.77,114.91 L455.68,114.57 L456.59,114.19 L457.50,113.78 L458.41,113.33 L459.32,112.85 L460.23,112.34 L461.14,111.81 L462.06,111.26 L462.97,110.70 L463.88,110.12 L464.79,109.53 L465.70,108.93 L466.61,108.33 L467.52,107.73 L468.43,107.13 L469.34,106.54 L470.25,105.96 L471.16,105.40 L472.07,104.85 L472.98,104.31 L473.89,103.79 L474.80,103.29 L475.71,102.80 L476.62,102.33 L477.53,101.87 L478.44,101.43 L479.35,101.00 L480.26,100.59 L481.17,100.19 L482.08,99.80 L483.00,99.43 L483.91,99.07 L484.82,98.73 L485.73,98.39 L486.64,98.08 L487.55,97.77 L488.46,97.48 L489.37,97.20 L490.28,96.93 L491.19,96.68 L492.10,96.43 L493.01,96.19 L493.92,95.96 L494.83,95.74 L495.74,95.53 L496.65,95.32 L497.56,95.12 L498.47,94.92 L499.38,94.73 L500.29,94.54 L501.20,94.35 L502.11,94.17 L503.02,93.98 L503.94,93.80" fill="none" stroke="#ff8000" stroke-width="1.5" stroke-dasharray="8 9.1" stroke-dashoffset="-4.1"/>
<rect x="319.76" y="123.80" width="6.0" height="6.0" fill="#ff8000"/>
<rect x="352.70" y="126.00" width="6.0" height="6.0" fill="#ff8000"/>
<rect x="385.64" y="115.90" width="6.0" height="6.0" fill="#ff8000"/>
<rect x="418.58" y="110.50" width="6.0" height="6.0" fill="#ff8000"/>
<rect x="451.52" y="112.00" width="6.0" height="6.0" fill="#ff8000"/>
<rect x="484.46" y="94.80" width="6.0" height="6.0" fill="#ff8000"/>
<path d="M322.76,37.30 L323.67,36.41 L324.58,35.52 L325.49,34.64 L326.40,33.77 L327.31,32.90 L328.22,32.05 L329.13,31.22 L330.04,30.41 L330.95,29.62 L331.86,28.85 L332.77,28.11 L333.68,27.40 L334.59,26.73 L335.50,26.09 L336.42,25.49 L337.33,24.93 L338.24,24.41 L339.15,23.94 L340.06,23.52 L340.97,23.15 L341.88,22.82 L342.79,22.53 L343.70,22.29 L344.61,22.08 L345.52,21.90 L346.43,21.76 L347.34,21.65 L348.25,21.56 L349.16,21.49 L350.07,21.45 L350.98,21.43 L351.89,21.42 L352.80,21.42 L353.71,21.44 L354.62,21.46 L355.53,21.49 L356.44,21.53 L357.36,21.56 L358.27,21.60 L359.18,21.64 L360.09,21.68 L361.00,21.73 L361.91,21.78 L362.82,21.83 L363.73,21.89 L364.64,21.95 L365.55,22.01 L366.46,22.08 L367.37,22.15 L368.28,22.23 L369.19,22.31 L370.10,22.39 L371.01,22.48 L371.92,22.57 L372.83,22.67 L373.74,22.77 L374.65,22.88 L375.56,22.99 L376.47,23.10 L377.38,23.22 L378.30,23.33 L379.21,23.45 L380.12,23.57 L381.03,23.69 L381.94,23.81 L382.85,23.92 L383.76,24.04 L384.67,24.15 L385.58,24.26 L386.49,24.37 L387.40,24.47 L388.31,24.57 L389.22,24.66 L390.13,24.75 L391.04,24.83 L391.95,24.91 L392.86,24.98 L393.77,25.06 L394.68,25.12 L395.59,25.19 L396.50,25.25 L397.41,25.31 L398.32,25.37 L399.24,25.43 L400.15,25.49 L401.06,25.55 L401.97,25.60 L402.88,25.66 L403.79,25.72 L404.70,25.77 L405.61,25.83 L406.52,25.89 L407.43,25.95 L408.34,26.02 L409.25,26.08 L410.16,26.14 L411.07,26.20 L411.98,26.26 L412.89,26.32 L413.80,26.38 L414.71,26.44 L415.62,26.50 L416.53,26.55 L417.44,26.60 L418.35,26.65 L419.26,26.70 L420.18,26.74 L421.09,26.78 L422.00,26.82 L422.91,26.85 L423.82,26.88 L424.73,26.90 L425.64,26.92 L426.55,26.94 L427.46,26.95 L428.37,26.96 L429.28,26.97 L430.19,26.97 L431.10,26.98 L432.01,26.97 L432.92,26.97 L433.83,26.96 L434.74,26.95 L435.65,26.94 L436.56,26.93 L437.47,26.91 L438.38,26.89 L439.29,26.87 L440.20,26.85 L441.12,26.83 L442.03,26.80 L442.94,26.77 L443.85,26.74 L444.76,26.71 L445.67,26.68 L446.58,26.65 L447.49,26.61 L448.40,26.57 L449.31,26.54 L450.22,26.50 L451.13,26.46 L452.04,26.42 L452.95,26.37 L453.86,26.33 L454.77,26.29 L455.68,26.24 L456.59,26.20 L457.50,26.15 L458.41,26.11 L459.32,26.06 L460.23,26.01 L461.14,25.97 L462.06,25.92 L462.97,25.87 L463.88,25.82 L464.79,25.77 L465.70,25.71 L466.61,25.66 L467.52,25.61 L468.43,25.55 L469.34,25.50 L470.25,25.45 L471.16,25.39 L472.07,25.33 L472.98,25.28 L473.89,25.22 L474.80,25.17 L475.71,25.12 L476.62,25.07 L477.53,25.02 L478.44,24.98 L479.35,24.94 L480.26,24.91 L481.17,24.88 L482.08,24.86 L483.00,24.85 L483.91,24.84 L484.82,24.84 L485.73,24.85 L486.64,24.87 L487.55,24.90 L488.46,24.94 L489.37,25.00 L490.28,25.06 L491.19,25.13 L492.10,25.20 L493.01,25.29 L493.92,25.38 L494.83,25.48 L495.74,25.59 L496.65,25.70 L497.56,25.81 L498.47,25.93 L499.38,26.05 L500.29,26.18 L501.20,26.31 L502.11,26.44 L503.02,26.57 L503.94,26.70" fill="none" stroke="#0000ff" stroke-width="1.5"/>
<path d="M318.66,33.80 L326.86,33.80 L322.76,40.80 Z" fill="#0000ff"/>
<path d="M351.60,18.00 L359.80,18.00 L355.70,25.00 Z" fill="#0000ff"/>
<path d="M384.54,21.10 L392.74,21.10 L388.64,28.10 Z" fill="#0000ff"/>
<path d="M417.48,23.30 L425.68,23.30 L421.58,30.30 Z" fill="#0000ff"/>
<path d="M450.42,22.80 L458.62,22.80 L454.52,29.80 Z" fill="#0000ff"/>
<path d="M483.36,21.40 L491.56,21.40 L487.46,28.40 Z" fill="#0000ff"/>
<path d="M322.76,103.60 L323.67,101.94 L324.58,100.28 L325.49,98.61 L326.40,96.95 L327.31,95.27 L328.22,93.60 L329.13,91.91 L330.04,90.22 L330.95,88.52 L331.86,86.81 L332.77,85.09 L333.68,83.36 L334.59,81.62 L335.50,79.86 L336.42,78.09 L337.33,76.30 L338.24,74.49 L339.15,72.67 L340.06,70.82 L340.97,68.97 L341.88,67.10 L342.79,65.23 L343.70,63.36 L344.61,61.50 L345.52,59.66 L346.43,57.83 L347.34,56.02 L348.25,54.24 L349.16,52.50 L350.07,50.80 L350.98,49.14 L351.89,47.54 L352.80,45.99 L353.71,44.50 L354.62,43.08 L355.53,41.74 L356.44,40.47 L357.36,39.27 L358.27,38.15 L359.18,37.10 L360.09,36.12 L361.00,35.20 L361.91,34.34 L362.82,33.54 L363.73,32.79 L364.64,32.09 L365.55,31.44 L366.46,30.83 L367.37,30.26 L368.28,29.73 L369.19,29.23 L370.10,28.76 L371.01,28.32 L371.92,27.91 L372.83,27.52 L373.74,27.14 L374.65,26.80 L375.56,26.48 L376.47,26.19 L377.38,25.94 L378.30,25.72 L379.21,25.54 L380.12,25.41 L381.03,25.32 L381.94,25.28 L382.85,25.30 L383.76,25.36 L384.67,25.49 L385.58,25.68 L386.49,25.93 L387.40,26.25 L388.31,26.64 L389.22,27.10 L390.13,27.64 L391.04,28.24 L391.95,28.90 L392.86,29.61 L393.77,30.38 L394.68,31.19 L395.59,32.05 L396.50,32.94 L397.41,33.86 L398.32,34.81 L399.24,35.78 L400.15,36.76 L401.06,37.76 L401.97,38.76 L402.88,39.76 L403.79,40.76 L404.70,41.75 L405.61,42.73 L406.52,43.69 L407.43,44.63 L408.34,45.55 L409.25,46.45 L410.16,47.33 L411.07,48.18 L411.98,49.00 L412.89,49.79 L413.80,50.55 L414.71,51.29 L415.62,51.98 L416.53,52.65 L417.44,53.27 L418.35,53.86 L419.26,54.40 L420.18,54.91 L421.09,55.37 L422.00,55.78 L422.91,56.15 L423.82,56.48 L424.73,56.76 L425.64,56.99 L426.55,57.18 L427.46,57.33 L428.37,57.44 L429.28,57.51 L430.19,57.54 L431.10,57.52 L432.01,57.47 L432.92,57.38 L433.83,57.26 L434.74,57.09 L435.65,56.89 L436.56,56.66 L437.47,56.39 L438.38,56.09 L439.29,55.75 L440.20,55.38 L441.12,54.99 L442.03,54.56 L442.94,54.11 L443.85,53.64 L444.76,53.14 L445.67,52.63 L446.58,52.09 L447.49,51.54 L448.40,50.97 L449.31,50.39 L450.22,49.80 L451.13,49.20 L452.04,48.59 L452.95,47.97 L453.86,47.35 L454.77,46.73 L455.68,46.11 L456.59,45.48 L457.50,44.85 L458.41,44.21 L459.32,43.57 L460.23,42.93 L461.14,42.27 L462.06,41.61 L462.97,40.94 L463.88,40.26 L464.79,39.57 L465.70,38.87 L466.61,38.15 L467.52,37.42 L468.43,36.68 L469.34,35.92 L470.25,35.15 L471.16,34.35 L472.07,33.55 L472.98,32.73 L473.89,31.92 L474.80,31.11 L475.71,30.31 L476.62,29.54 L477.53,28.81 L478.44,28.11 L479.35,27.45 L480.26,26.86 L481.17,26.32 L482.08,25.86 L483.00,25.48 L483.91,25.18 L484.82,24.98 L485.73,24.88 L486.64,24.89 L487.55,25.02 L488.46,25.27 L489.37,25.64 L490.28,26.12 L491.19,26.71 L492.10,27.40 L493.01,28.17 L493.92,29.03 L494.83,29.97 L495.74,30.97 L496.65,32.04 L497.56,33.16 L498.47,34.33 L499.38,35.55 L500.29,36.80 L501.20,38.07 L502.11,39.37 L503.02,40.68 L503.94,42.00" fill="none" stroke="#ff0000" stroke-width="1.5" stroke-dasharray="7.2 5.3" stroke-dashoffset="-9.8"/>
<path d="M318.66,107.10 L326.86,107.10 L322.76,100.10 Z" fill="#ff0000"/>
<path d="M351.60,45.00 L359.80,45.00 L355.70,38.00 Z" fill="#ff0000"/>
<path d="M384.54,30.30 L392.74,30.30 L388.64,23.30 Z" fill="#ff0000"/>
<path d="M417.48,59.10 L425.68,59.10 L421.58,52.10 Z" fill="#ff0000"/>
<path d="M450.42,50.40 L458.62,50.40 L454.52,43.40 Z" fill="#ff0000"/>
<path d="M483.36,28.50 L491.56,28.50 L487.46,21.50 Z" fill="#ff0000"/>
<line x1="299.7" y1="11.15" x2="523.7" y2="11.15" stroke="#505050" stroke-width="1.25"/>
<line x1="357.2" y1="11.3" x2="463.2" y2="11.3" stroke="#141414" stroke-width="1.5"/>
<line x1="300.0" y1="10.5" x2="300.0" y2="194.4" stroke="#575757" stroke-width="1.6"/>
<line x1="523.7" y1="10.5" x2="523.7" y2="194.4" stroke="#575757" stroke-width="1.6"/>
<line x1="299.7" y1="193.6" x2="523.7" y2="193.6" stroke="#575757" stroke-width="1.5"/>
<line x1="299.70" y1="193.5" x2="299.70" y2="195.7" stroke="#5a5a5a" stroke-width="1"/>
<text x="299.70" y="203.40" text-anchor="middle" class="t75">22</text>
<line x1="326.05" y1="193.5" x2="326.05" y2="195.7" stroke="#5a5a5a" stroke-width="1"/>
<text x="326.05" y="203.40" text-anchor="middle" class="t75">24</text>
<line x1="352.41" y1="193.5" x2="352.41" y2="195.7" stroke="#5a5a5a" stroke-width="1"/>
<text x="352.41" y="203.40" text-anchor="middle" class="t75">26</text>
<line x1="378.76" y1="193.5" x2="378.76" y2="195.7" stroke="#5a5a5a" stroke-width="1"/>
<text x="378.76" y="203.40" text-anchor="middle" class="t75">28</text>
<line x1="405.11" y1="193.5" x2="405.11" y2="195.7" stroke="#5a5a5a" stroke-width="1"/>
<text x="405.11" y="203.40" text-anchor="middle" class="t75">30</text>
<line x1="431.46" y1="193.5" x2="431.46" y2="195.7" stroke="#5a5a5a" stroke-width="1"/>
<text x="431.46" y="203.40" text-anchor="middle" class="t75">32</text>
<line x1="457.82" y1="193.5" x2="457.82" y2="195.7" stroke="#5a5a5a" stroke-width="1"/>
<text x="457.82" y="203.40" text-anchor="middle" class="t75">34</text>
<line x1="484.17" y1="193.5" x2="484.17" y2="195.7" stroke="#5a5a5a" stroke-width="1"/>
<text x="484.17" y="203.40" text-anchor="middle" class="t75">36</text>
<line x1="510.52" y1="193.5" x2="510.52" y2="195.7" stroke="#5a5a5a" stroke-width="1"/>
<text x="510.52" y="203.40" text-anchor="middle" class="t75">38</text>
<line x1="297.7" y1="193.50" x2="299.7" y2="193.50" stroke="#5a5a5a" stroke-width="1"/>
<text x="296.40" y="196.10" text-anchor="end" class="t75">70.0</text>
<line x1="297.7" y1="178.34" x2="299.7" y2="178.34" stroke="#5a5a5a" stroke-width="1"/>
<text x="296.40" y="180.94" text-anchor="end" class="t75">72.5</text>
<line x1="297.7" y1="163.18" x2="299.7" y2="163.18" stroke="#5a5a5a" stroke-width="1"/>
<text x="296.40" y="165.78" text-anchor="end" class="t75">75.0</text>
<line x1="297.7" y1="148.03" x2="299.7" y2="148.03" stroke="#5a5a5a" stroke-width="1"/>
<text x="296.40" y="150.62" text-anchor="end" class="t75">77.5</text>
<line x1="297.7" y1="132.87" x2="299.7" y2="132.87" stroke="#5a5a5a" stroke-width="1"/>
<text x="296.40" y="135.47" text-anchor="end" class="t75">80.0</text>
<line x1="297.7" y1="117.71" x2="299.7" y2="117.71" stroke="#5a5a5a" stroke-width="1"/>
<text x="296.40" y="120.31" text-anchor="end" class="t75">82.5</text>
<line x1="297.7" y1="102.55" x2="299.7" y2="102.55" stroke="#5a5a5a" stroke-width="1"/>
<text x="296.40" y="105.15" text-anchor="end" class="t75">85.0</text>
<line x1="297.7" y1="87.39" x2="299.7" y2="87.39" stroke="#5a5a5a" stroke-width="1"/>
<text x="296.40" y="89.99" text-anchor="end" class="t75">87.5</text>
<line x1="297.7" y1="72.23" x2="299.7" y2="72.23" stroke="#5a5a5a" stroke-width="1"/>
<text x="296.40" y="74.83" text-anchor="end" class="t75">90.0</text>
<line x1="297.7" y1="57.07" x2="299.7" y2="57.07" stroke="#5a5a5a" stroke-width="1"/>
<text x="296.40" y="59.67" text-anchor="end" class="t75">92.5</text>
<line x1="297.7" y1="41.92" x2="299.7" y2="41.92" stroke="#5a5a5a" stroke-width="1"/>
<text x="296.40" y="44.52" text-anchor="end" class="t75">95.0</text>
<line x1="297.7" y1="26.76" x2="299.7" y2="26.76" stroke="#5a5a5a" stroke-width="1"/>
<text x="296.40" y="29.36" text-anchor="end" class="t75">97.5</text>
<line x1="297.7" y1="11.60" x2="299.7" y2="11.60" stroke="#5a5a5a" stroke-width="1"/>
<text x="296.40" y="14.20" text-anchor="end" class="t75">100.0</text>
<line x1="523.7" y1="193.50" x2="525.9000000000001" y2="193.50" stroke="#5a5a5a" stroke-width="1"/>
<text x="527.30" y="196.10" class="t75">0</text>
<line x1="523.7" y1="175.31" x2="525.9000000000001" y2="175.31" stroke="#5a5a5a" stroke-width="1"/>
<text x="527.30" y="177.91" class="t75">1</text>
<line x1="523.7" y1="157.12" x2="525.9000000000001" y2="157.12" stroke="#5a5a5a" stroke-width="1"/>
<text x="527.30" y="159.72" class="t75">2</text>
<line x1="523.7" y1="138.93" x2="525.9000000000001" y2="138.93" stroke="#5a5a5a" stroke-width="1"/>
<text x="527.30" y="141.53" class="t75">3</text>
<line x1="523.7" y1="120.74" x2="525.9000000000001" y2="120.74" stroke="#5a5a5a" stroke-width="1"/>
<text x="527.30" y="123.34" class="t75">4</text>
<line x1="523.7" y1="102.55" x2="525.9000000000001" y2="102.55" stroke="#5a5a5a" stroke-width="1"/>
<text x="527.30" y="105.15" class="t75">5</text>
<line x1="523.7" y1="84.36" x2="525.9000000000001" y2="84.36" stroke="#5a5a5a" stroke-width="1"/>
<text x="527.30" y="86.96" class="t75">6</text>
<line x1="523.7" y1="66.17" x2="525.9000000000001" y2="66.17" stroke="#5a5a5a" stroke-width="1"/>
<text x="527.30" y="68.77" class="t75">7</text>
<line x1="523.7" y1="47.98" x2="525.9000000000001" y2="47.98" stroke="#5a5a5a" stroke-width="1"/>
<text x="527.30" y="50.58" class="t75">8</text>
<line x1="523.7" y1="29.79" x2="525.9000000000001" y2="29.79" stroke="#5a5a5a" stroke-width="1"/>
<text x="527.30" y="32.39" class="t75">9</text>
<line x1="523.7" y1="11.60" x2="525.9000000000001" y2="11.60" stroke="#5a5a5a" stroke-width="1"/>
<text x="527.30" y="14.20" class="t75">10</text>
<text x="380.2" y="217.1" class="t92">Frequency (GHz)</text>
<text transform="translate(273.9,110) rotate(-90) scale(1,0.85)" text-anchor="middle" class="t96">Efficiency (%)</text>
<text transform="translate(545.8,107.9) rotate(-90) scale(1,0.88)" text-anchor="middle" class="t92">Gain (dBi)</text>
<text x="405.4" y="239.7" text-anchor="middle" class="tb">(b)</text>
<rect x="371.6" y="164.0" width="78.1" height="12.3" fill="#fff" stroke="#9a9a9a" stroke-width="1"/>
<path d="M379,170.2 L384.7,170.2 M394.2,170.2 L400.3,170.2" stroke="#ff8000" stroke-width="1.5"/>
<rect x="386.70" y="167.30" width="6.0" height="6.0" fill="#ff8000"/>
<text x="402.2" y="173.4" class="t92">Gain (dBi)</text>
<rect x="456.2" y="159.8" width="60.4" height="25.3" fill="#fff" stroke="#9a9a9a" stroke-width="1"/>
<line x1="460.1" y1="166.3" x2="481" y2="166.3" stroke="#0000ff" stroke-width="1.5"/>
<path d="M466.80,164.00 L475.00,164.00 L470.90,171.00 Z" fill="#0000ff"/>
<path d="M459.9,177.7 L465.4,177.7 M472,177.7 L478.3,177.7" stroke="#ff0000" stroke-width="1.5"/>
<path d="M466.50,180.50 L474.70,180.50 L470.60,173.50 Z" fill="#ff0000"/>
<text x="483.6" y="169.8" class="t92">Rad Eff</text>
<text x="483.6" y="181.0" class="t92">Tot Eff</text>
</g>
</svg>
</body></html>
